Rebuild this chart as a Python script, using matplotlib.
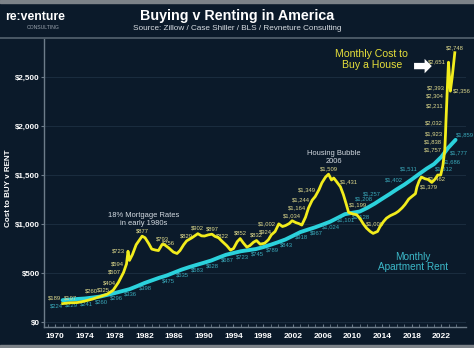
import matplotlib
matplotlib.use('Agg')

import matplotlib.pyplot as plt
from matplotlib.patches import Rectangle, FancyArrow
from matplotlib.lines import Line2D
import numpy as np

# monthly cost to buy a house (yellow line)
buy_years = [
    1971.0, 1972.0, 1973.0, 1974.0, 1975.0, 1976.0, 1977.0, 1977.8, 1978.5, 1979.2,
    1979.6, 1979.8, 1980.0, 1980.4, 1980.9, 1981.7, 1982.1, 1982.6, 1983.0, 1983.5,
    1983.9, 1984.4, 1984.7, 1985.3, 1985.9, 1986.4, 1986.8, 1987.3, 1987.7, 1988.4,
    1989.2, 1989.7, 1990.1, 1990.6, 1991.1, 1991.5, 1992.0, 1992.5, 1993.1, 1993.6,
    1994.0, 1994.5, 1994.9, 1995.3, 1995.8, 1996.2, 1996.7, 1997.1, 1997.6, 1998.2,
    1998.7, 1999.1, 1999.6, 2000.1, 2000.6, 2001.0, 2001.5, 2001.9, 2002.4, 2002.8,
    2003.2, 2003.7, 2004.1, 2004.6, 2005.0, 2005.5, 2005.9, 2006.4, 2006.8, 2007.2,
    2007.5, 2007.9, 2008.4, 2008.8, 2009.2, 2009.5, 2010.0, 2010.6, 2011.0, 2011.5,
    2011.9, 2012.4, 2012.8, 2013.4, 2013.7, 2014.2, 2014.6, 2015.1, 2015.8, 2016.2,
    2016.7, 2017.1, 2017.6, 2018.0, 2018.5, 2018.7, 2019.0, 2019.3, 2019.8, 2020.2,
    2020.7, 2021.1, 2021.5, 2021.9, 2022.2, 2022.45, 2022.5, 2022.55, 2022.6, 2022.7,
    2022.75, 2022.8, 2022.95, 2023.2, 2023.45, 2023.8,
]
buy_values = [
    189, 197, 200, 215, 235, 260, 285, 325, 404, 507,
    594, 723, 630, 690, 790, 877, 860, 800, 745, 735,
    730, 793, 790, 756, 715, 700, 730, 790, 829, 860,
    902, 880, 878, 890, 897, 875, 860, 822, 780, 735,
    750, 820, 852, 810, 765, 780, 815, 832, 795, 805,
    840, 890, 924, 1002, 975, 985, 1005, 1034, 1015, 1005,
    990, 1070, 1164, 1244, 1280, 1349, 1420, 1480, 1509, 1450,
    1470, 1431, 1380, 1300, 1199, 1120, 1105, 1095, 1060, 1000,
    960, 925, 905, 925, 970, 1025, 1060, 1085, 1110, 1130,
    1165, 1200, 1255, 1280, 1310, 1379, 1440, 1480, 1462, 1455,
    1425, 1455, 1500, 1500, 1600, 1757, 1838, 1923, 2032, 2211,
    2304, 2393, 2651, 2356, 2500, 2748,
]

# monthly apartment rent (cyan line)
rent_years = [
    1971, 1972, 1973, 1974, 1975, 1976, 1977, 1978, 1979, 1980,
    1981, 1982, 1983, 1984, 1985, 1986, 1987, 1988, 1989, 1990,
    1991, 1992, 1993, 1994, 1995, 1996, 1997, 1998, 1999, 2000,
    2001, 2002, 2003, 2004, 2005, 2006, 2007, 2008, 2009, 2010,
    2011, 2012, 2013, 2014, 2015, 2016, 2017, 2018, 2019, 2020,
    2021, 2022, 2022.9, 2023.9,
]
rent_values = [
    224, 229, 236, 241, 250, 260, 278, 296, 316, 336,
    366, 398, 425, 452, 475, 505, 535, 560, 583, 605,
    628, 658, 687, 705, 723, 734, 745, 765, 789, 815,
    843, 880, 918, 943, 967, 995, 1024, 1062, 1101, 1115,
    1128, 1165, 1208, 1257, 1305, 1355, 1402, 1455, 1511, 1565,
    1612, 1686, 1777, 1859,
]

# points that carry a $ label
buy_label_years = [
    1971.0, 1972.0, 1976.0, 1977.8, 1978.5, 1979.2, 1979.6, 1979.8, 1981.7, 1984.4,
    1985.3, 1987.7, 1989.2, 1991.1, 1992.5, 1994.9, 1997.1, 1999.6, 2000.1, 2001.9,
    2004.1, 2004.6, 2005.5, 2006.8, 2007.9, 2009.2, 2011.5, 2018.7, 2019.8, 2022.45,
    2022.5, 2022.55, 2022.6, 2022.7, 2022.75, 2022.8, 2022.95, 2023.2, 2023.8,
]
rent_label_years = [
    1971, 1972, 1974, 1976, 1978, 1980, 1982, 1985, 1987, 1989,
    1991, 1993, 1995, 1997, 1999, 2001, 2003, 2005, 2007, 2009,
    2011, 2013, 2014, 2017, 2019, 2021, 2022, 2022.9, 2023.9,
]

year_ticks = list(range(1970, 2023, 4))
cost_ticks = [0, 500, 1000, 1500, 2000, 2500]

# where each label sits relative to its point
buy_label_side = [
    'ul', 'a', 'ul', 'l', 'l', 'l', 'l', 'l', 'a', 'a',
    'a', 'a', 'a', 'a', 'a', 'a', 'a', 'l', 'l', 'a',
    'l', 'l', 'l', 'a', 'r', 'r', 'r', 'r', 'r', 'l',
    'l', 'l', 'l', 'l', 'l', 'l', 'l', 'r', 'a',
]
rent_label_side = ['bl'] + ['b'] * 20 + ['ul'] * 4 + ['br'] * 3 + ['ar']

SIDES = {
    'l': (-2, 0, 'right', 'center'),
    'r': (2, 0, 'left', 'center'),
    'a': (0, 2, 'center', 'bottom'),
    'b': (1, -2, 'center', 'top'),
    'bl': (0, -2.5, 'right', 'top'),
    'ul': (-1, 2, 'right', 'bottom'),
    'br': (1, -1.5, 'left', 'top'),
    'ar': (0, 2, 'left', 'bottom'),
}

BG = '#0b1a2a'
YELLOW = '#f2ec1c'
CYAN = '#2bd2dc'
BUY_TEXT = '#ded98c'
RENT_TEXT = '#3aa9ba'
AXIS = '#6d7c8a'

plt.rcParams['font.family'] = ['Liberation Sans', 'DejaVu Sans']


def label_points(ax, years, values, label_years, sides, color):
    yrs = np.array(years, dtype=float)
    for yr, side in zip(label_years, sides):
        i = int(np.argmin(np.abs(yrs - yr)))
        dx, dy, ha, va = SIDES[side]
        ax.annotate(f'${values[i]:,.0f}', (years[i], values[i]), xytext=(dx, dy),
                    textcoords='offset points', ha=ha, va=va,
                    fontsize=4.2, color=color)


fig = plt.figure(figsize=(4.74, 3.48), dpi=100, facecolor=BG)

# screenshot frame bands top and bottom
fig.patches.append(Rectangle((0, 0.991), 1, 0.009, transform=fig.transFigure, color='#7c8288', zorder=0))
fig.patches.append(Rectangle((0, 0), 1, 0.009, transform=fig.transFigure, color='#7c8288', zorder=0))
fig.lines.append(Line2D([0, 1], [0.891, 0.891], transform=fig.transFigure, color='#55636f', lw=1.2))

# header
fig.text(0.5, 0.955, 'Buying v Renting in America', ha='center', va='center',
         color='white', fontsize=10.3, fontweight='bold')
fig.text(0.5, 0.917, 'Source: Zillow / Case Shiller / BLS / Revneture Consulting', ha='center',
         va='center', color='#d8dde2', fontsize=5.9)
fig.text(0.074, 0.951, 're:venture', ha='center', va='center', color='white',
         fontsize=8.8, fontweight='bold')
fig.text(0.091, 0.921, 'CONSULTING', ha='center', va='center', color='#9aa4ae', fontsize=3.7)

ax = fig.add_axes([0.093, 0.060, 0.890, 0.828])
ax.set_facecolor(BG)

ax.plot(rent_years, rent_values, color=CYAN, lw=2.8, solid_capstyle='round', zorder=3)
ax.plot(buy_years, buy_values, color=YELLOW, lw=2.0, solid_joinstyle='round', zorder=4)

label_points(ax, buy_years, buy_values, buy_label_years, buy_label_side, BUY_TEXT)
label_points(ax, rent_years, rent_values, rent_label_years, rent_label_side, RENT_TEXT)

ax.set_xlim(1968.5, 2025.3)
ax.set_ylim(-51, 2888)
ax.set_xticks(year_ticks)
ax.set_xticks(range(1969, 2025), minor=True)
ax.set_yticks(cost_ticks)
ax.set_yticklabels([f'${v:,}' for v in cost_ticks])
ax.grid(axis='y', color='#1d3042', lw=0.6)
ax.set_axisbelow(True)

for s in ['top', 'right']:
    ax.spines[s].set_visible(False)
for s in ['left', 'bottom']:
    ax.spines[s].set_color(AXIS)
    ax.spines[s].set_linewidth(1.0)

ax.tick_params(axis='x', which='both', direction='in', length=2, color=AXIS, pad=4,
               labelcolor='white', labelsize=6)
ax.tick_params(axis='y', length=2, color=AXIS, pad=1, labelcolor='white', labelsize=5.8)
for t in ax.get_xticklabels() + ax.get_yticklabels():
    t.set_fontweight('bold')

fig.text(0.017, 0.46, 'Cost to BUY v RENT', rotation=90, ha='center', va='center',
         color='white', fontsize=5.8, fontweight='bold')

# annotations
ax.text(0.777, 0.93, 'Monthly Cost to\nBuy a House', transform=ax.transAxes, ha='center',
        va='center', color='#e6df3a', fontsize=7.6, linespacing=1.1)
ax.add_patch(FancyArrow(0.877, 0.906, 0.042, 0, width=0.022, head_width=0.05,
                        head_length=0.017, length_includes_head=True,
                        transform=ax.transAxes, color='white', lw=0, zorder=5))
ax.text(0.874, 0.226, 'Monthly\nApartment Rent', transform=ax.transAxes, ha='center',
        va='center', color='#3cb9c9', fontsize=7.2, linespacing=1.1)
ax.text(0.235, 0.375, '18% Mortgage Rates\nin early 1980s', transform=ax.transAxes,
        ha='center', va='center', color='#d5dce3', fontsize=5.4, linespacing=1.2)
ax.text(0.686, 0.587, 'Housing Bubble\n2006', transform=ax.transAxes, ha='center',
        va='center', color='#d5dce3', fontsize=5.4, linespacing=1.2)

fig.savefig('out.png', dpi=100, facecolor=BG)
